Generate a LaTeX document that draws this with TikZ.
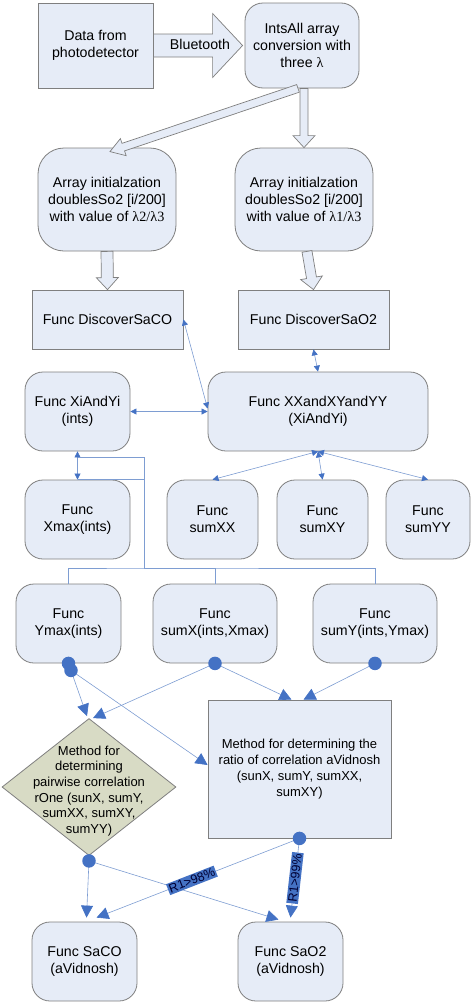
\documentclass[tikz,border=0pt]{standalone}
\usepackage{fontspec}
\setmainfont{Liberation Sans}
\newfontfamily\lamfont{Liberation Serif}
\usetikzlibrary{calc,arrows.meta,shapes.geometric}

\definecolor{boxfill}{HTML}{E6ECF7}
\definecolor{boxline}{HTML}{7F7F7F}
\definecolor{linkblue}{HTML}{7E9DD2}
\definecolor{tipblue}{HTML}{4472C4}
\definecolor{olivefill}{HTML}{D8DBC5}

\tikzset{
  sq/.style={draw=boxline, fill=boxfill, line width=0.8pt, align=center, inner sep=2pt,
    font=\fontsize{14.2}{17}\selectfont},
  rr/.style={sq, rounded corners=18pt},
  fat/.style={draw=boxline, fill=boxfill, line width=0.7pt},
  link/.style={draw=linkblue, line width=0.6pt},
  small/.style={link, {Triangle[length=6pt,width=6pt,color=tipblue]}-{Triangle[length=6pt,width=6pt,color=tipblue]}},
  big/.style={link, -{Triangle[length=12pt,width=12pt,color=tipblue]}},
  dot/.style={circle, fill=tipblue, inner sep=0pt, minimum size=13.5pt},
  lbl/.style={sloped, fill=tipblue, text=black!80!blue, inner sep=1.4pt, font=\fontsize{12.5}{13}\selectfont}
}

% hollow block arrow: from, to, shaft half width, head half width, head length
\newcommand\fatarrow[5]{%
  \coordinate (fh) at ($(#2)!#5!(#1)$);
  \draw[fat] ($(#1)!#3!90:(#2)$) -- ($(fh)!#3!90:(#2)$) -- ($(fh)!#4!90:(#2)$) -- (#2)
    -- ($(fh)!#4!-90:(#2)$) -- ($(fh)!#3!-90:(#2)$) -- ($(#1)!#3!-90:(#2)$) -- cycle;}

\begin{document}
\begin{tikzpicture}[x=1pt,y=-1pt]
  \useasboundingbox (0,0) rectangle (474,1004);
  \node[sq, minimum width=115pt, minimum height=85pt] (data) at (95.5,45.5) {Data from\\photodetector};
  \node[rr, minimum width=114pt, minimum height=85pt] (ints) at (302,45.5) {IntsAll array\\conversion with\\three {\lamfont λ}};
  \node[rr, rounded corners=26pt, minimum width=138pt, minimum height=103pt] (initL) at (107,199.5)
    {Array initialzation\\doublesSo2 [i/200]\\with value of {\lamfont λ2/λ3}};
  \node[rr, rounded corners=26pt, minimum width=138pt, minimum height=103pt] (initR) at (304,199.5)
    {Array initialzation\\doublesSo2 [i/200]\\with value of {\lamfont λ1/λ3}};
  \node[sq, minimum width=151pt, minimum height=59pt] (discCO) at (107.5,319.5) {Func DiscoverSaCO};
  \node[sq, minimum width=151pt, minimum height=59pt] (discO2) at (313.5,319.5) {Func DiscoverSaO2};
  \node[rr, minimum width=105pt, minimum height=79pt] (xiyi) at (77.5,411.5) {Func XiAndYi\\(ints)};
  \node[rr, minimum width=220pt, minimum height=79pt] (xxyy) at (318,411.5) {Func XXandXYandYY\\(XiAndYi)};
  \node[rr, minimum width=105pt, minimum height=79pt] (xmax) at (77.5,519.5) {Func\\Xmax(ints)};
  \node[rr, minimum width=91pt, minimum height=79pt] (sumXX) at (212.5,519.5) {Func\\sumXX};
  \node[rr, minimum width=91pt, minimum height=79pt] (sumXY) at (322.5,519.5) {Func\\sumXY};
  \node[rr, minimum width=84pt, minimum height=79pt] (sumYY) at (428,519.5) {Func\\sumYY};
  \node[rr, minimum width=105pt, minimum height=79pt] (ymax) at (68.5,623.5) {Func\\Ymax(ints)};
  \node[rr, minimum width=124pt, minimum height=79pt] (sumX) at (215,623.5) {Func\\sumX(ints,Xmax)};
  \node[rr, minimum width=124pt, minimum height=79pt] (sumY) at (375,623.5) {Func\\sumY(ints,Ymax)};
  \node[diamond, draw=boxline, fill=olivefill, line width=0.8pt, inner sep=0pt,
    minimum width=174pt, minimum height=137pt] (rone) at (89,787) {};
  \node[align=center, font=\fontsize{13}{15.7}\selectfont] (roneText) at ($(rone)+(0,4)$)
    {Method for\\determining\\pairwise correlation\\rOne (sunX, sumY,\\sumXX, sumXY,\\sumYY)};
  \node[sq, font=\fontsize{13}{16}\selectfont, minimum width=183pt, minimum height=138pt] (ratio) at (299.5,769)
    {Method for determining the\\ratio of correlation aVidnosh\\(sunX, sumY, sumXX,\\sumXY)};
  \node[rr, minimum width=105pt, minimum height=79pt] (saco) at (84.5,961.5) {Func SaCO\\(aVidnosh)};
  \node[rr, minimum width=105pt, minimum height=79pt] (sao2) at (290.5,961.5) {Func SaO2\\(aVidnosh)};

  % block arrows
  \coordinate (btEnd) at ($(ints.west)+(-2,0)$);
  \fatarrow{data.east}{btEnd}{11.5pt}{32pt}{30pt}
  \node[font=\fontsize{14.2}{17}\selectfont] (bt) at ($(data.east)!0.5!(ints.west)+(1,-1)$) {Bluetooth};
  \coordinate (intsA) at ($(ints.south)+(-4,0)$);
  \coordinate (intsB) at ($(ints.south)+(2,0)$);
  \coordinate (initLtop) at ($(initL.north)+(3,4)$);
  \fatarrow{intsA}{initLtop}{4pt}{9pt}{14pt}
  \fatarrow{intsB}{initR.north}{4pt}{11pt}{12pt}
  \fatarrow{initL.south}{discCO.north}{6pt}{11pt}{12pt}
  \coordinate (initRbot) at ($(initR.south)+(3,0)$);
  \fatarrow{initRbot}{discO2.north}{5pt}{11pt}{12pt}

  % upper links
  \draw[small] (discCO.east) -- ($(xxyy.west)+(0,-3)$);
  \draw[small] (xiyi.east) -- (xxyy.west);
  \draw[small] (discO2.south) -- (xxyy.north);
  \foreach \s in {sumXX,sumXY,sumYY}
    \draw[small] (xxyy.south) -- (\s.north);
  \draw[small] (xiyi.south) -- (xmax.north);

  \coordinate (bus) at (144,568);
  \draw[link] ($(xiyi.south)+(0,6)$) -| (bus);
  \draw[link] (xmax.north) -| (bus);
  \draw[link] (ymax.north) |- (bus) -| (sumY.north);
  \draw[link] (sumX.north) |- (bus);

  % lower links, dots on top
  \coordinate (cy) at (ymax.south);
  \coordinate (cy2) at ($(ymax.south)+(2.5,7)$);
  \coordinate (cx) at (sumX.south);
  \coordinate (cs) at (sumY.south);
  \coordinate (cr) at ($(rone.south)+(0,5)$);
  \coordinate (cv) at (ratio.south);
  \draw[big] (cy) -- ($(rone.north)+(-2,-2)$);
  \draw[big] (cy2) -- ($(ratio.west)+(0,-4)$);
  \draw[big] (cx) -- ($(rone.north)+(4,0)$);
  \draw[big] (cx) -- ($(ratio.north)+(-8,0)$);
  \draw[big] (cs) -- ($(ratio.north)+(4,0)$);
  \draw[big] (cr) -- ($(saco.north)+(2,-4)$);
  \draw[big] (cr) -- ($(sao2.north)+(-12,-2)$);
  \draw[big] (cv) -- node[lbl, pos=0.53] (r98) {R1>98\%} ($(saco.north)+(12,-4)$);
  \draw[big] (cv) -- node[lbl, pos=0.5] (r99) {R1>99\%} ($(sao2.north)+(0,-4)$);
  \foreach \c in {cy,cy2,cx,cs,cr,cv}
    \node[dot] (d\c) at (\c) {};
\end{tikzpicture}
\end{document}
